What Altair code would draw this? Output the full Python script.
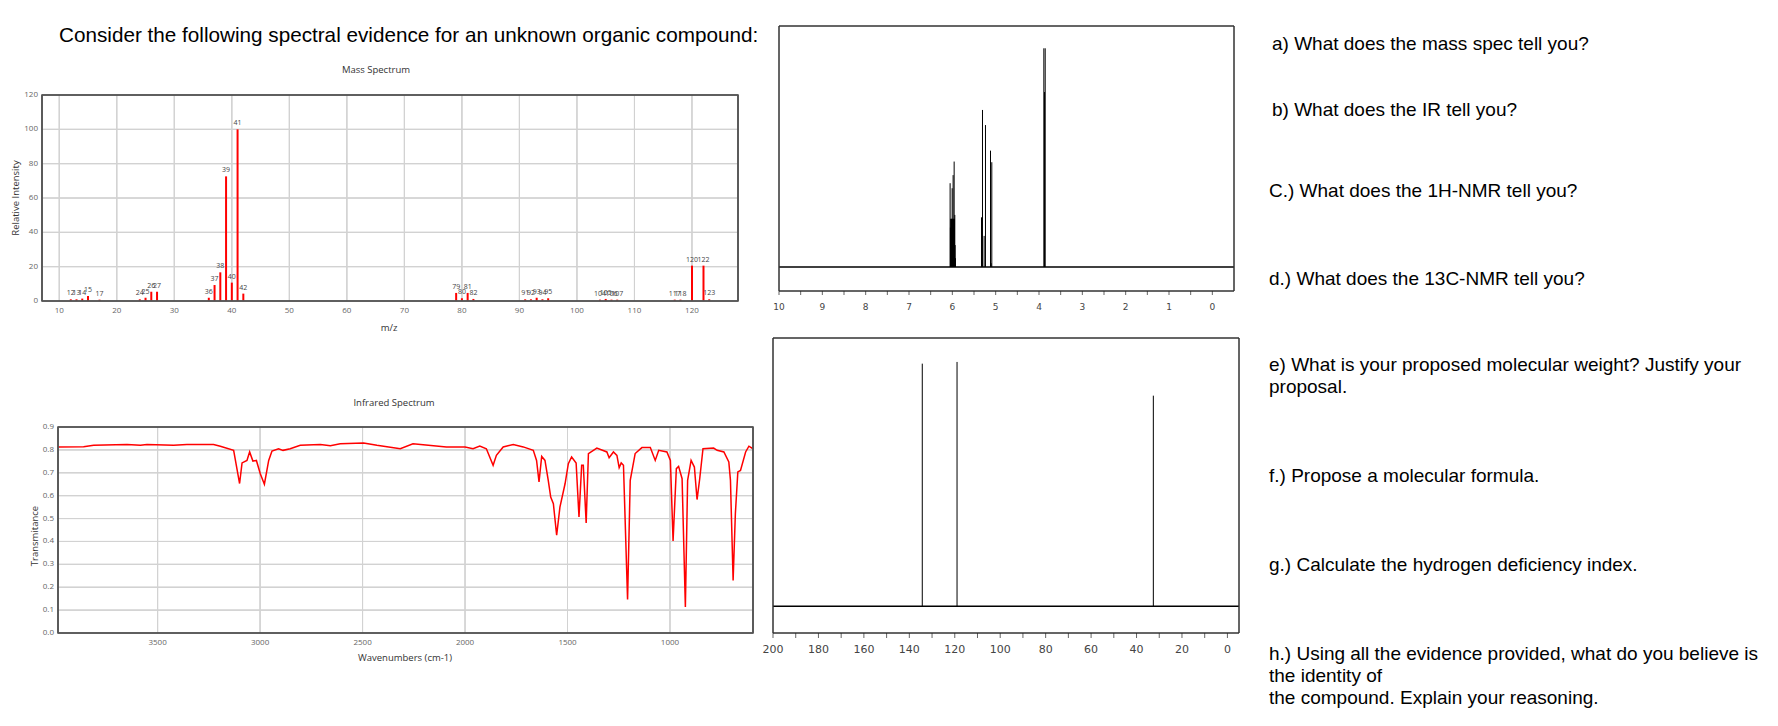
import altair as alt
import pandas as pd

# ---------------- data ----------------
# Mass spectrum
ms_mz = [12, 13, 14, 15, 17, 24, 25, 26, 27, 36, 37, 38, 39, 40, 41, 42,
         79, 80, 81, 82, 91, 92, 93, 94, 95, 104, 105, 106, 107, 117, 118,
         120, 122, 123]
ms_int = [1.0, 1.0, 1.4, 2.9, 0.8, 1.0, 1.9, 5.4, 5.4, 1.9, 9.3, 16.7, 72.6,
          10.7, 100.0, 4.3, 4.7, 1.6, 4.7, 1.2, 1.0, 1.0, 1.9, 1.0, 1.6, 0.8,
          1.2, 0.8, 0.8, 0.8, 0.8, 20.6, 20.6, 1.0]
ms_x_ticks = [10, 20, 30, 40, 50, 60, 70, 80, 90, 100, 110, 120]
ms_y_ticks = [0, 20, 40, 60, 80, 100, 120]
ms_x_domain = [7, 128]
ms_y_domain = [0, 120]

# Infrared spectrum
ir_wn = [3986, 3861, 3812, 3649, 3584, 3552, 3422, 3357, 3227, 3194, 3129,
         3100, 3088, 3064, 3051, 3035, 3018, 2999, 2979, 2958, 2942, 2910,
         2888, 2853, 2804, 2706, 2657, 2609, 2495, 2430, 2316, 2254, 2091,
         2000, 1961, 1928, 1896, 1863, 1847, 1814, 1765, 1716, 1667, 1651,
         1639, 1626, 1610, 1594, 1582, 1569, 1553, 1537, 1512, 1496, 1480,
         1458, 1444, 1431, 1423, 1409, 1398, 1357, 1308, 1297, 1276, 1259,
         1248, 1238, 1227, 1207, 1194, 1170, 1137, 1096, 1072, 1055, 1015,
         998, 985, 969, 958, 941, 925, 914, 897, 881, 868, 855, 839, 787,
         770, 737, 713, 705, 692, 681, 669, 656, 631, 615, 595]
ir_t = [0.813, 0.814, 0.820, 0.824, 0.820, 0.824, 0.820, 0.823, 0.823, 0.816,
        0.798, 0.653, 0.743, 0.754, 0.791, 0.751, 0.754, 0.696, 0.650, 0.754,
        0.795, 0.805, 0.798, 0.805, 0.820, 0.824, 0.818, 0.827, 0.830, 0.820,
        0.805, 0.827, 0.813, 0.813, 0.805, 0.817, 0.805, 0.733, 0.776, 0.813,
        0.823, 0.813, 0.798, 0.754, 0.660, 0.772, 0.754, 0.667, 0.594, 0.565,
        0.427, 0.550, 0.652, 0.740, 0.769, 0.743, 0.507, 0.733, 0.733, 0.481,
        0.784, 0.808, 0.791, 0.766, 0.791, 0.776, 0.722, 0.743, 0.733, 0.146,
        0.667, 0.784, 0.810, 0.810, 0.754, 0.798, 0.791, 0.754, 0.402, 0.718,
        0.728, 0.674, 0.114, 0.667, 0.754, 0.725, 0.583, 0.674, 0.805, 0.808,
        0.798, 0.791, 0.747, 0.667, 0.230, 0.522, 0.704, 0.710, 0.791, 0.816,
        0.805]
ir_x_ticks = [3500, 3000, 2500, 2000, 1500, 1000]
ir_y_ticks = [0.0, 0.1, 0.2, 0.3, 0.4, 0.5, 0.6, 0.7, 0.8, 0.9]
ir_x_domain = [595, 3986]
ir_y_domain = [0.0, 0.9]

# 1H NMR (ppm, relative height)
h_ppm = [6.051, 6.044, 6.036, 6.028, 6.020, 6.012, 6.004, 5.997, 5.989, 5.982,
         5.974, 5.966, 5.958, 5.950, 5.943, 5.935, 5.928,
         5.327, 5.304, 5.266, 5.235, 5.119, 5.104, 5.089,
         3.888, 3.872, 3.857]
h_int = [38.3, 18.0, 22.0, 22.0, 22.0, 22.0, 36.0, 22.0, 22.0, 42.0,
         22.0, 22.0, 48.2, 22.0, 23.8, 10.0, 4.0,
         22.7, 71.8, 14.2, 64.9, 53.2, 1.7, 47.9,
         100.0, 80.0, 100.0]
h_ticks = [10, 9.5, 9, 8.5, 8, 7.5, 7, 6.5, 6, 5.5, 5, 4.5, 4, 3.5, 3, 2.5,
           2, 1.5, 1, 0.5, 0]
h_labels = [10, 9, 8, 7, 6, 5, 4, 3, 2, 1, 0]
h_x_domain = [-0.5, 10]
h_y_domain = [-11.0, 110.2]

# 13C NMR
c_ppm = [134.3, 119.0, 32.6]
c_int = [99.3, 100.0, 86.2]
c_ticks = [200, 190, 180, 170, 160, 150, 140, 130, 120, 110, 100, 90, 80, 70,
           60, 50, 40, 30, 20, 10, 0]
c_labels = [200, 180, 160, 140, 120, 100, 80, 60, 40, 20, 0]
c_x_domain = [-5.1, 200]
c_y_domain = [-10.95, 109.8]

# Texts
main_title = "Consider the following spectral evidence for an unknown organic compound:"
questions = [
    "a) What does the mass spec tell you?",
    "b) What does the IR tell you?",
    "C.) What does the 1H-NMR tell you?",
    "d.) What does the 13C-NMR tell you?",
    "e) What is your proposed molecular weight? Justify your",
    "proposal.",
    "f.) Propose a molecular formula.",
    "g.) Calculate the hydrogen deficiency index.",
    "h.) Using all the evidence provided, what do you believe is",
    "the identity of",
    "the compound. Explain your reasoning.",
]
panel_titles = ["Mass Spectrum", "m/z", "Infrared Spectrum", "Wavenumbers (cm-1)"]
side_titles = ["Relative Intensity", "Transmitance"]

# ---------------- layout (pixels) ----------------
W, H = 1778, 726
q_x = [1272, 1272, 1269, 1269, 1269, 1269, 1269, 1269, 1269, 1269, 1269]
q_y = [44, 110, 191, 279, 365, 387, 476, 565, 654, 676, 698]
ptitle_x = [376, 389, 394, 405]
ptitle_y = [70, 328, 403, 658]
stitle_x = [16, 35]
stitle_y = [198, 536]

SANS = "Open Sans"
GRID = "#d2d2d2"


def X(f, s):
    return alt.X(f, scale=s, axis=None)


def Y(f, s):
    return alt.Y(f, scale=s, axis=None)


def seg_df(xd, yd, xt, yt, tag):
    rows = [{tag + "a": v, tag + "b": v, tag + "c": yd[0], tag + "d": yd[1]} for v in xt]
    rows += [{tag + "a": xd[0], tag + "b": xd[1], tag + "c": v, tag + "d": v} for v in yt]
    return pd.DataFrame(rows)


def grid_layers(xs, ys, xd, yd, xt, yt, tag):
    df = seg_df(xd, yd, xt, [v for v in yt if yd[0] < v < yd[1]], tag + "g")
    enc = dict(x=X(tag + "ga:Q", xs), x2=tag + "gb:Q", y=Y(tag + "gc:Q", ys), y2=tag + "gd:Q")
    r1 = alt.Chart(df).mark_rule(color=GRID, strokeWidth=1).encode(**enc)
    r2 = alt.Chart(df).mark_rect(fillOpacity=0, stroke=GRID, strokeWidth=1).encode(**enc)
    return [r1, r2]


def frame_layers(xs, ys, xd, yd, tag, color, width):
    df = pd.DataFrame({tag + "fx0": [xd[0]], tag + "fx1": [xd[1]],
                       tag + "fy0": [yd[0]], tag + "fy1": [yd[1]]})
    rect = alt.Chart(df).mark_rect(fillOpacity=0, stroke=color, strokeWidth=width).encode(
        x=X(tag + "fx0:Q", xs), x2=tag + "fx1:Q", y=Y(tag + "fy0:Q", ys), y2=tag + "fy1:Q")
    sdf = seg_df(xd, yd, [xd[0], xd[1]], [yd[0], yd[1]], tag + "s")
    rules = alt.Chart(sdf).mark_rule(color=color, strokeWidth=width).encode(
        x=X(tag + "sa:Q", xs), x2=tag + "sb:Q", y=Y(tag + "sc:Q", ys), y2=tag + "sd:Q")
    return [rect, rules]


def axis_text_layers(xs, ys, xd, yd, xt, yt, xfmt, yfmt, left_val, tag):
    xlab = alt.Chart(pd.DataFrame({tag + "xv": xt, tag + "xb": [yd[0]] * len(xt),
                                   tag + "xs": [format(v, xfmt) for v in xt]})).mark_text(
        baseline="middle", align="center", dy=10, font=SANS, fontSize=8,
        color="#666").encode(x=X(tag + "xv:Q", xs), y=Y(tag + "xb:Q", ys), text=tag + "xs:N")
    ylab = alt.Chart(pd.DataFrame({tag + "yv": yt, tag + "yb": [left_val] * len(yt),
                                   tag + "ys": [format(v, yfmt) for v in yt]})).mark_text(
        baseline="middle", align="right", dx=-4, font=SANS, fontSize=8,
        color="#666").encode(y=Y(tag + "yv:Q", ys), x=X(tag + "yb:Q", xs), text=tag + "ys:N")
    return [xlab, ylab]


# ---------------- Mass spectrum ----------------
msx = alt.Scale(domain=ms_x_domain, range=[42, 738], nice=False, zero=False)
msy = alt.Scale(domain=ms_y_domain, range=[301, 95], nice=False, zero=False)
ms_df = pd.DataFrame({"mz": ms_mz, "inten": ms_int, "base": 0,
                      "lab": [str(m) for m in ms_mz]})
ms_bars = alt.Chart(ms_df).mark_rule(color="#ff0000", strokeWidth=2).encode(
    x=X("mz:Q", msx), y=Y("base:Q", msy), y2="inten:Q")
ms_labels = alt.Chart(ms_df).mark_text(dy=-6, fontSize=7, font=SANS, color="#444").encode(
    x=X("mz:Q", msx), y=Y("inten:Q", msy), text="lab:N")
ms_layers = (grid_layers(msx, msy, ms_x_domain, ms_y_domain, ms_x_ticks, ms_y_ticks, "ms")
             + [ms_bars, ms_labels]
             + frame_layers(msx, msy, ms_x_domain, ms_y_domain, "ms", "#555", 1.6)
             + axis_text_layers(msx, msy, ms_x_domain, ms_y_domain, ms_x_ticks, ms_y_ticks,
                                "d", "d", ms_x_domain[0], "ms"))

# ---------------- IR ----------------
irx = alt.Scale(domain=ir_x_domain, range=[753, 58], nice=False, zero=False)
iry = alt.Scale(domain=ir_y_domain, range=[633, 427], nice=False, zero=False)
ir_line = alt.Chart(pd.DataFrame({"wn": ir_wn, "t": ir_t})).mark_line(
    color="#ff0000", strokeWidth=1.5).encode(
    x=X("wn:Q", irx), y=Y("t:Q", iry), order=alt.Order("wn:Q"))
ir_layers = (grid_layers(irx, iry, ir_x_domain, ir_y_domain, ir_x_ticks, ir_y_ticks, "ir")
             + [ir_line]
             + frame_layers(irx, iry, ir_x_domain, ir_y_domain, "ir", "#555", 1.6)
             + axis_text_layers(irx, iry, ir_x_domain, ir_y_domain, ir_x_ticks, ir_y_ticks,
                                "d", ".1f", ir_x_domain[1], "ir"))


# ---------------- NMR panels ----------------
def nmr_layers(ppm, inten, ticks, labels, xd, yd, xr, yr, tick_len, lab_dy, lab_size, tag):
    xs = alt.Scale(domain=xd, range=xr, nice=False, zero=False)
    ys = alt.Scale(domain=yd, range=yr, nice=False, zero=False)
    base = alt.Chart(pd.DataFrame({tag + "a": [xd[0]], tag + "b": [xd[1]], tag + "z": [0]})).mark_rule(
        color="black", strokeWidth=1.4).encode(x=X(tag + "a:Q", xs), x2=tag + "b:Q", y=Y(tag + "z:Q", ys))
    peaks = alt.Chart(pd.DataFrame({tag + "p": ppm, tag + "i": inten,
                                    tag + "z0": [0] * len(ppm)})).mark_rule(
        color="black", strokeWidth=1).encode(x=X(tag + "p:Q", xs), y=Y(tag + "z0:Q", ys), y2=tag + "i:Q")
    tks = alt.Chart(pd.DataFrame({tag + "tv": ticks, tag + "tb": [yd[0]] * len(ticks)})).mark_tick(
        orient="vertical", size=tick_len, thickness=1, color="#222",
        yOffset=tick_len / 2).encode(x=X(tag + "tv:Q", xs), y=Y(tag + "tb:Q", ys))
    labs = alt.Chart(pd.DataFrame({tag + "lv": labels, tag + "lb": [yd[0]] * len(labels),
                                   tag + "ls": [str(v) for v in labels]})).mark_text(
        baseline="middle", align="center", dy=lab_dy, font="DejaVu Sans",
        fontSize=lab_size, color="#444").encode(x=X(tag + "lv:Q", xs), y=Y(tag + "lb:Q", ys),
                                                text=tag + "ls:N")
    return [base, peaks] + frame_layers(xs, ys, xd, yd, tag, "#333", 1) + [tks, labs]


h_layers = nmr_layers(h_ppm, h_int, h_ticks, h_labels, h_x_domain, h_y_domain,
                      [1234, 779], [291, 26], 4, 16, 9, "h")
c_layers = nmr_layers(c_ppm, c_int, c_ticks, c_labels, c_x_domain, c_y_domain,
                      [1239, 773], [633, 338], 5, 17, 11, "c")

# ---------------- texts ----------------
PX = lambda f: alt.X(f, scale=None, axis=None)
PY = lambda f: alt.Y(f, scale=None, axis=None)

title_txt = alt.Chart(pd.DataFrame({"tt": [main_title], "tx": [59], "ty": [36]})).mark_text(
    align="left", baseline="middle", font="Liberation Sans", fontSize=20.7,
    color="black").encode(x=PX("tx:Q"), y=PY("ty:Q"), text="tt:N")
q_txt = alt.Chart(pd.DataFrame({"qt": questions, "qx": q_x, "qy": q_y})).mark_text(
    align="left", baseline="middle", font="Liberation Sans", fontSize=19,
    color="black").encode(x=PX("qx:Q"), y=PY("qy:Q"), text="qt:N")
pt_txt = alt.Chart(pd.DataFrame({"pt": panel_titles, "ptx": ptitle_x, "pty": ptitle_y})).mark_text(
    align="center", baseline="middle", font=SANS, fontSize=9.5,
    color="#333").encode(x=PX("ptx:Q"), y=PY("pty:Q"), text="pt:N")
st_txt = alt.Chart(pd.DataFrame({"st": side_titles, "stx": stitle_x, "sty": stitle_y})).mark_text(
    align="center", baseline="middle", font=SANS, fontSize=9.5, angle=270,
    color="#333").encode(x=PX("stx:Q"), y=PY("sty:Q"), text="st:N")

all_layers = ms_layers + ir_layers + h_layers + c_layers + [title_txt, q_txt, pt_txt, st_txt]
chart = alt.layer(*all_layers).resolve_scale(
    x="independent", y="independent").properties(
    width=W, height=H, autosize=alt.AutoSizeParams(type="none"), padding=0,
    background="white").configure_view(stroke=None)

chart.save("out.html", embed_options={"renderer": "svg", "actions": False})
